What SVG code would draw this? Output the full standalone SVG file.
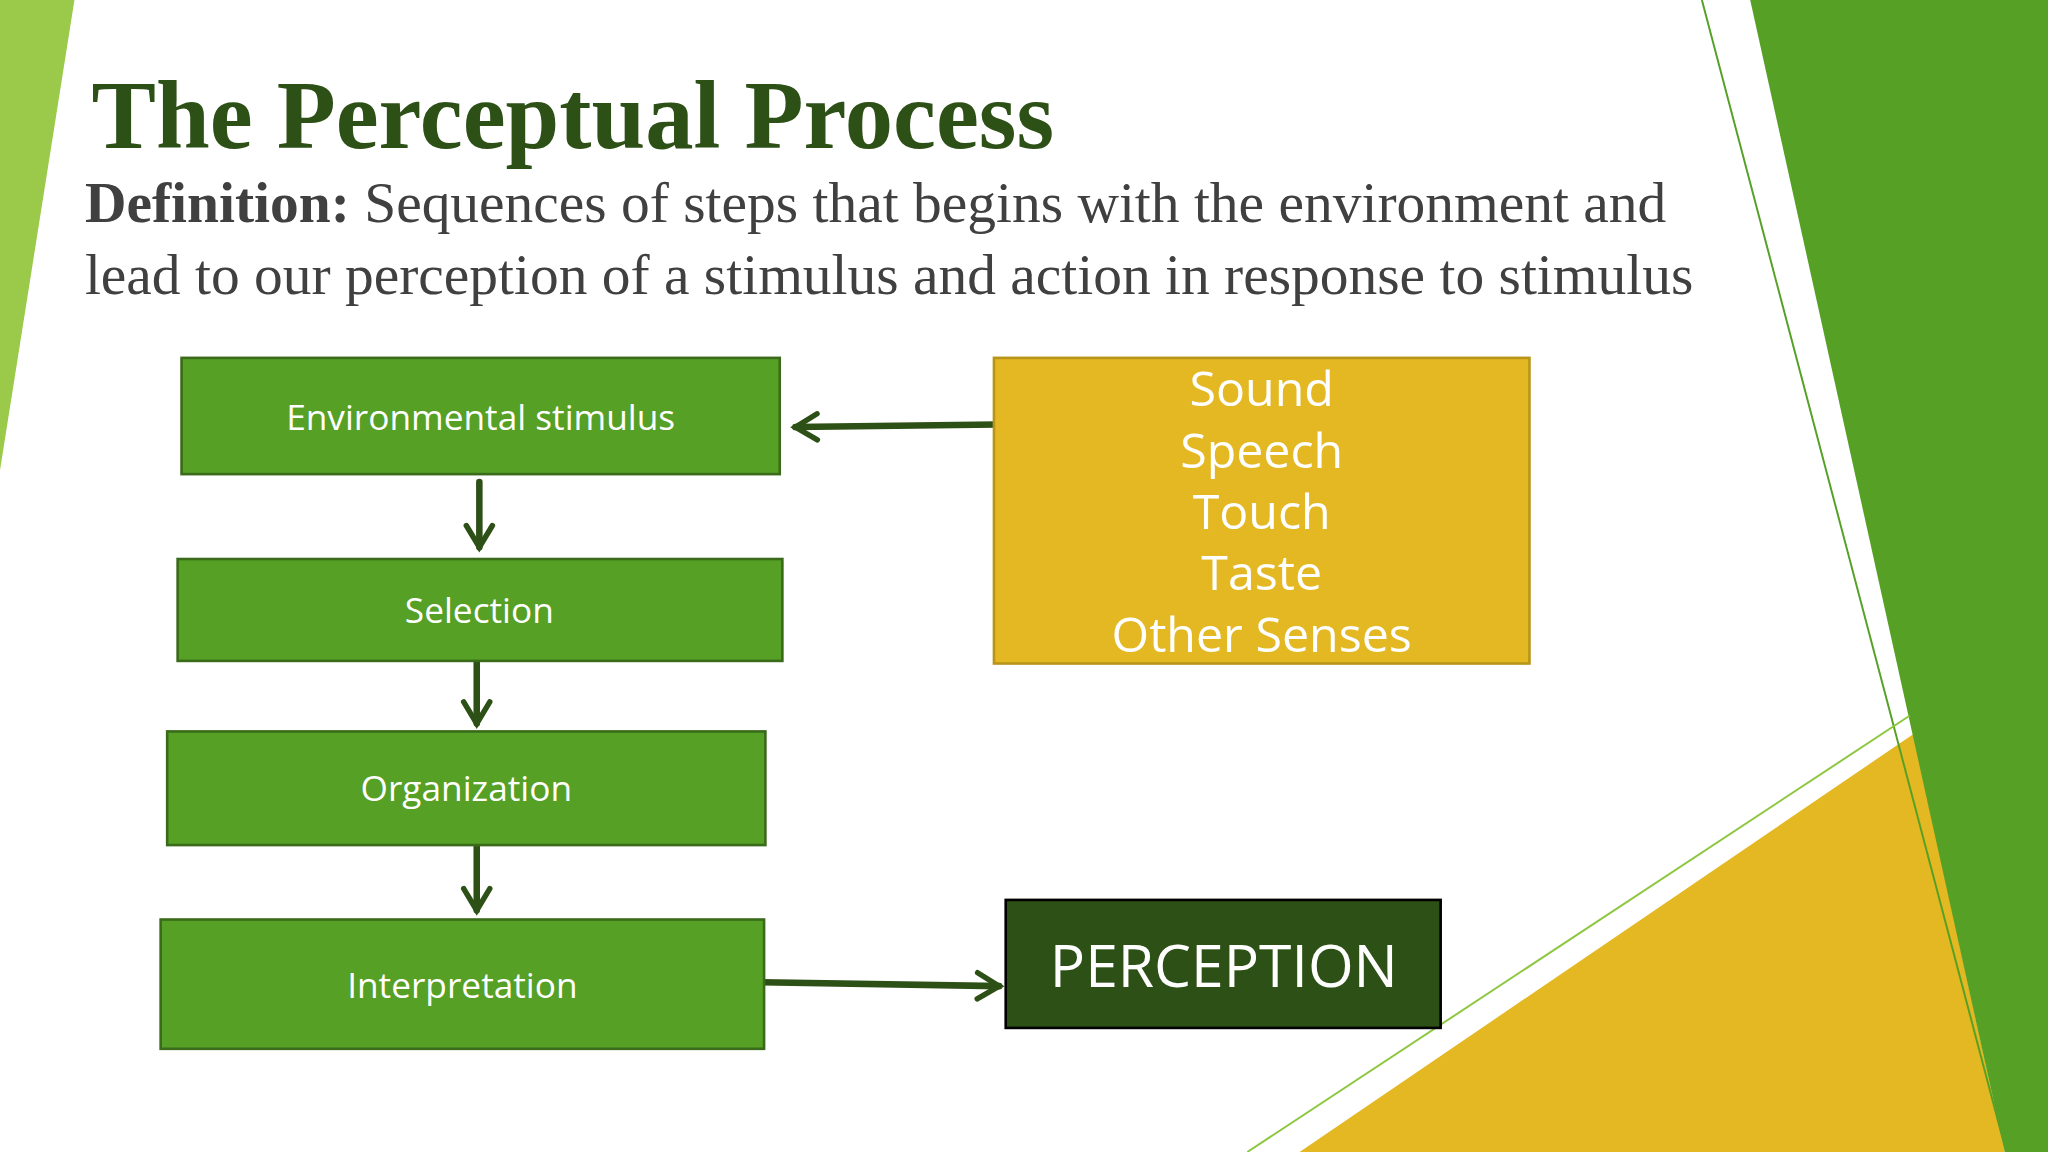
<svg xmlns="http://www.w3.org/2000/svg" width="2048" height="1152" viewBox="0 0 2048 1152">
<defs>
<style>
.box{fill:#55A025;stroke:#3A6B1A;stroke-width:2}
.bt{font-family:"Open Sans",sans-serif;font-size:27px;fill:#fff;text-anchor:middle}
.gt{font-family:"Open Sans",sans-serif;font-size:37px;fill:#fff;text-anchor:middle}
.ar{stroke:#2D5016;stroke-width:5;fill:none;stroke-linecap:round}
.def{font-family:"Liberation Serif",serif;font-size:44px;fill:#404040}
</style>
<marker id="ah" viewBox="0 0 12 12" refX="10" refY="6" markerWidth="6" markerHeight="6" orient="auto" markerUnits="userSpaceOnUse" overflow="visible">
<path d="M0,0 L10,6 L0,12" fill="none" stroke="#2D5016" stroke-width="2" stroke-linecap="round"/>
</marker>
<marker id="ahs" viewBox="0 0 12 12" refX="10" refY="6" markerWidth="4" markerHeight="4" orient="auto" overflow="visible">
<path d="M0,0 L10,6 L0,12" fill="none" stroke="#2D5016" stroke-width="2.5" stroke-linecap="round"/>
</marker>
</defs>
<rect width="2048" height="1152" fill="#fff"/>
<g transform="scale(1.306122)">
<g id="background">
<polygon points="0,0 57,0 0,360" fill="#9BC94A"/>
<polygon points="995,882 1465,562 1535,882" fill="#E3B822"/>
<polygon points="1340,0 1568,0 1568,882 1535,882" fill="#55A025"/>
<line x1="1303" y1="0" x2="1536" y2="882" stroke="#55A025" stroke-width="1.5"/>
<line x1="955" y1="882" x2="1462" y2="548" stroke="#8DC63F" stroke-width="1.5"/>
</g>
<g id="title">
<text x="70" y="113" font-family="Liberation Serif,serif" font-weight="bold" font-size="74" fill="#2D5016">The Perceptual Process</text>
<text x="65" y="170" class="def"><tspan font-weight="bold">Definition:</tspan> Sequences of steps that begins  with the environment and</text>
<text x="65" y="225" class="def">lead to our perception of a stimulus and action in response to  stimulus</text>
</g>
<g id="connectors">
<line class="ar" x1="763" y1="325" x2="609" y2="327" marker-end="url(#ahs)"/>
<line class="ar" x1="367" y1="369" x2="367" y2="419" marker-end="url(#ahs)"/>
<line class="ar" x1="365" y1="506" x2="365" y2="554" marker-end="url(#ahs)"/>
<line class="ar" x1="365" y1="648" x2="365" y2="697" marker-end="url(#ahs)"/>
<line class="ar" x1="583" y1="752" x2="765" y2="755" marker-end="url(#ahs)"/>
</g>
<g id="env"><rect class="box" x="139" y="274" width="458" height="89"/><text class="bt" x="368" y="329">Environmental stimulus</text></g>
<g id="selection"><rect class="box" x="136" y="428" width="463" height="78"/><text class="bt" x="367" y="477">Selection</text></g>
<g id="organization"><rect class="box" x="128" y="560" width="458" height="87"/><text class="bt" x="357" y="613">Organization</text></g>
<g id="interpretation"><rect class="box" x="123" y="704" width="462" height="99"/><text class="bt" x="354" y="764">Interpretation</text></g>
<g id="senses"><rect x="761" y="274" width="410" height="234" fill="#E3B822" stroke="#B8951A" stroke-width="2"/>
<text class="gt" x="966" y="311">Sound</text>
<text class="gt" x="966" y="358">Speech</text>
<text class="gt" x="966" y="405">Touch</text>
<text class="gt" x="966" y="452">Taste</text>
<text class="gt" x="966" y="499">Other Senses</text></g>
<g id="perception"><rect x="770" y="689" width="333" height="98" fill="#2D5016" stroke="#000" stroke-width="2"/>
<text x="937" y="756" font-family="Open Sans,sans-serif" font-size="45" fill="#fff" text-anchor="middle">PERCEPTION</text></g>
</g>
</svg>
